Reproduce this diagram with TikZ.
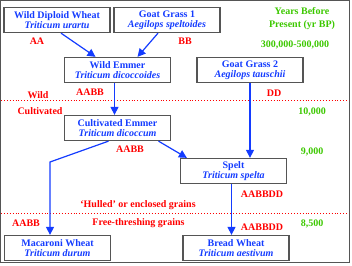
\documentclass[tikz,border=0pt]{standalone}
\usepackage{fontspec}
\setmainfont{Liberation Serif}
\usetikzlibrary{arrows.meta}
\definecolor{wblue}{RGB}{20,60,255}
\definecolor{wred}{RGB}{255,0,0}
\definecolor{wgreen}{RGB}{60,200,0}
\definecolor{wgray}{RGB}{85,85,85}

\begin{document}
\begin{tikzpicture}[x=1pt,y=-1pt,
  font=\fontsize{10}{10}\selectfont\bfseries,
  grain/.style={draw=wgray,line width=1.3pt,fill=white,text=wblue,align=center,
    minimum width=106pt,minimum height=25pt,inner sep=1pt},
  genome/.style={text=wred,inner sep=0pt},
  age/.style={text=wgreen,inner sep=0pt},
  arr/.style={wblue,line width=1.2pt,-{Triangle[width=8pt,length=8pt]}},
  limit/.style={wred,dotted,line width=0.9pt}]
  \useasboundingbox (0,0) rectangle (352,265);
  %frame
  \draw[wgray,line width=0.8pt] (0.5,0.5) rectangle (349.5,262.5);

  %wild / cultivated and hulled / free-threshing
  \draw[limit] (1,100) -- (349,100);
  \draw[limit] (1,213) -- (349,213);

  %species
  \node[grain] (wdw) at (57,20) {Wild Diploid Wheat\\\textit{Triticum urartu}};
  \node[grain] (gg1) at (167,20) {Goat Grass 1\\\textit{Aegilops speltoides}};
  \node[grain] (we) at (117.5,70) {Wild Emmer\\\textit{Triticum dicoccoides}};
  \node[grain] (gg2) at (250,70) {Goat Grass 2\\\textit{Aegilops tauschii}};
  \node[grain] (ce) at (117.5,128) {Cultivated Emmer\\\textit{Triticum dicoccum}};
  \node[grain] (spelt) at (233.5,171) {Spelt\\\textit{Triticum spelta}};
  \node[grain] (mac) at (57.5,248) {Macaroni Wheat\\\textit{Triticum durum}};
  \node[grain] (bw) at (236,248) {Bread Wheat\\\textit{Triticum aestivum}};

  %genomes
  \node[genome] (aa) at (37,41) {AA};
  \node[genome] (bb) at (185,41) {BB};
  \node[genome] (aabb1) at (90,92) {AABB};
  \node[genome] (dd) at (274,93) {DD};
  \node[genome] (aabb2) at (130,149) {AABB};
  \node[genome] (aabb3) at (26,223) {AABB};
  \node[genome] (aabbdd1) at (262,194) {AABBDD};
  \node[genome] (aabbdd2) at (262,227) {AABBDD};
  \node[genome] (wild) at (38,95) {Wild};
  \node[genome] (cult) at (40,111) {Cultivated};
  \node[genome] (hulled) at (138,205) {`Hulled' or enclosed grains};
  \node[genome] (free) at (138.5,223) {Free-threshing grains};

  %years
  \node[age,align=center,font=\fontsize{10}{13}\selectfont\bfseries] (ybp) at (302,18.5) {Years Before\\Present (yr BP)};
  \node[age] (t1) at (295,45) {300,000-500,000};
  \node[age] (t2) at (312,112) {10,000};
  \node[age] (t3) at (312,152) {9,000};
  \node[age] (t4) at (312,224) {8,500};

  %arrows
  \draw[arr] ([xshift=4pt]wdw.south) -- ([xshift=-22pt]we.north);
  \draw[arr] ([xshift=-9pt]gg1.south) -- ([xshift=20pt]we.north);
  \draw[arr] ([xshift=-3pt]we.south) -- ([xshift=-3pt]ce.north);
  \draw[arr] (gg2.south) -- (gg2.south |- spelt.north);
  \coordinate (bend) at (50,162);
  \draw[arr] ([xshift=-9pt]ce.south) -- (bend) -- (bend |- mac.north);
  \draw[arr] ([xshift=41pt]ce.south) -- ([xshift=7pt]spelt.north west);
  \draw[arr] ([xshift=-2pt]spelt.south) -- ([xshift=-2pt]spelt.south |- bw.north);
\end{tikzpicture}
\end{document}
